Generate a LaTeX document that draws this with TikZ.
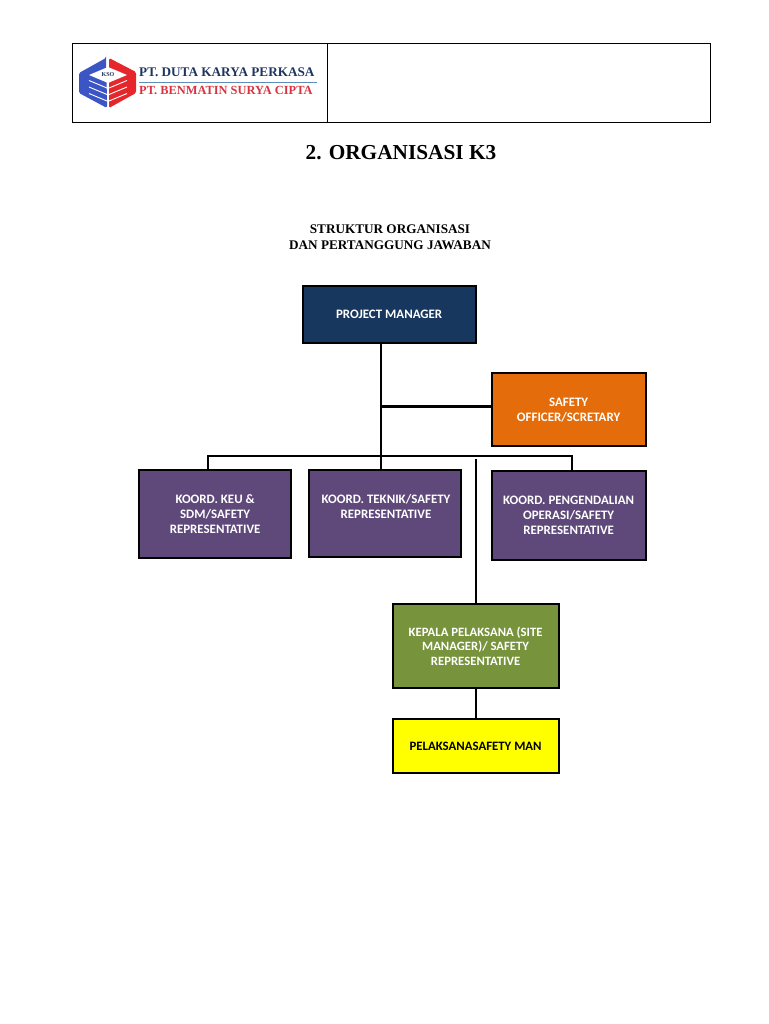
\documentclass[tikz,border=0pt]{standalone}
\usepackage{fontspec}
\setmainfont{Carlito}
\newfontfamily\serifbold{Liberation Serif}[BoldFont={Liberation Serif Bold}]
\definecolor{navybox}{HTML}{17375E}
\definecolor{orangebox}{HTML}{E46C0A}
\definecolor{purplebox}{HTML}{5F497A}
\definecolor{greenbox}{HTML}{77933C}
\definecolor{yellowbox}{HTML}{FFFF00}
\definecolor{logoblue}{HTML}{3B55C4}
\definecolor{logored}{HTML}{E5262B}
\definecolor{logonavy}{HTML}{1F3560}
\definecolor{logotext}{HTML}{D8343F}
\definecolor{logoline}{HTML}{5B8DB8}
\tikzset{
  orgbox/.style={draw=black,line width=2.2pt,inner sep=0pt,align=center,text=white,font=\bfseries\fontsize{12.9}{15}\selectfont,anchor=north west},
  link/.style={draw=black,line width=2.8pt},
  frameline/.style={draw=black,line width=0.9pt},
  stripe/.style={draw=white,line width=0.9pt},
  logotxt/.style={inner sep=0pt,anchor=west,font=\serifbold\bfseries\fontsize{12.4}{14}\selectfont},
  headtxt/.style={inner sep=0pt,align=center,text=black}
}
\begin{document}
\begin{tikzpicture}[x=1pt,y=-1pt]
\useasboundingbox (0,0) rectangle (768,1024);
% header table
\draw[frameline] (72,43.5) rectangle (710,122.5);
\draw[frameline] (327,43.5) -- (327,122.5);
% logo
\fill[logoblue,rounded corners=1.5pt] (106,58) -- (79,73) -- (79,93) -- (107,108) -- (107,100) -- (106,58) -- cycle;
\fill[logored,rounded corners=1.5pt] (109,58) -- (136,72) -- (136,93) -- (109,108) -- cycle;
\fill[white] (108,67) -- (127,75) -- (108,83) -- (89,75) -- cycle;
\node[inner sep=0pt,font=\serifbold\bfseries\fontsize{6}{6}\selectfont,text=logonavy] (kso) at (108,75) {KSO};
\foreach \d in {0,6.5,13}{
  \draw[stripe] (89,{80.5+\d}) -- (107,{88+\d});
  \draw[stripe] (109,{88+\d}) -- (127,{80.5+\d});
}
\node[logotxt,text=logonavy,font=\serifbold\bfseries\fontsize{13.2}{14}\selectfont] (duta) at (139,72.7) {PT. DUTA KARYA PERKASA};
\draw[logoline,line width=0.8pt] (139,82) -- (317,82);
\node[logotxt,text=logotext] (bsc) at (139,90.7) {PT. BENMATIN SURYA CIPTA};
% titles
\node[headtxt,font=\serifbold\bfseries\fontsize{21.3}{24}\selectfont] (title) at (401,152.5) {2. ORGANISASI K3};
\node[headtxt,font=\serifbold\bfseries\fontsize{13.2}{16.5}\selectfont] (sub) at (390,237) {STRUKTUR ORGANISASI\\DAN PERTANGGUNG JAWABAN};
% boxes
\node[orgbox,fill=navybox,minimum width=173pt,minimum height=57pt] (pm) at (301.5,284.5) {PROJECT MANAGER};
\node[orgbox,fill=orangebox,minimum width=154pt,minimum height=73pt] (so) at (490.5,372) {SAFETY\\OFFICER/SCRETARY};
\node[orgbox,fill=purplebox,minimum width=152pt,minimum height=88pt] (keu) at (138,469) {KOORD. KEU \&\\SDM/SAFETY\\REPRESENTATIVE};
\node[orgbox,fill=purplebox,minimum width=152pt,minimum height=87pt] (tek) at (308,469) {};
\node[inner sep=0pt,align=center,text=white,font=\bfseries\fontsize{12.9}{15}\selectfont] (tektxt) at (386,506.5) {KOORD. TEKNIK/SAFETY\\REPRESENTATIVE};
\node[orgbox,fill=purplebox,minimum width=154pt,minimum height=89pt] (peng) at (490.5,470) {KOORD. PENGENDALIAN\\OPERASI/SAFETY\\REPRESENTATIVE};
\node[orgbox,fill=greenbox,minimum width=166pt,minimum height=84pt,font=\bfseries\fontsize{12.7}{14.7}\selectfont] (kp) at (391.5,603) {KEPALA PELAKSANA (SITE\\MANAGER)/ SAFETY\\REPRESENTATIVE};
\node[orgbox,fill=yellowbox,text=black,minimum width=166pt,minimum height=54pt,font=\bfseries\fontsize{12.8}{14}\selectfont] (pel) at (391.5,718) {\raisebox{-2pt}{PELAKSANASAFETY MAN}};
% connectors
\coordinate (trunk) at (381,343);
\coordinate (busL) at (208,456);
\coordinate (busR) at (572,456);
\coordinate (sj) at (381,406.5);
\coordinate (free) at (476,459);
\draw[link] (pm.south -| trunk) -- (tek.north -| trunk);
\draw[link,line width=2.2pt] (sj) -- (sj -| so.west);
\draw[link,line width=1.7pt] (busL) -- (busR);
\draw[link,line width=2.6pt] (busL |- keu.north) -- ([yshift=0.85pt]busL);
\draw[link,line width=1.8pt] ([yshift=0.85pt]busR) -- (busR |- peng.north);
\draw[link,line width=2.4pt] (free) -- (free |- kp.north);
\draw[link,line width=2.2pt] (kp.south -| free) -- (pel.north -| free);
\end{tikzpicture}
\end{document}
